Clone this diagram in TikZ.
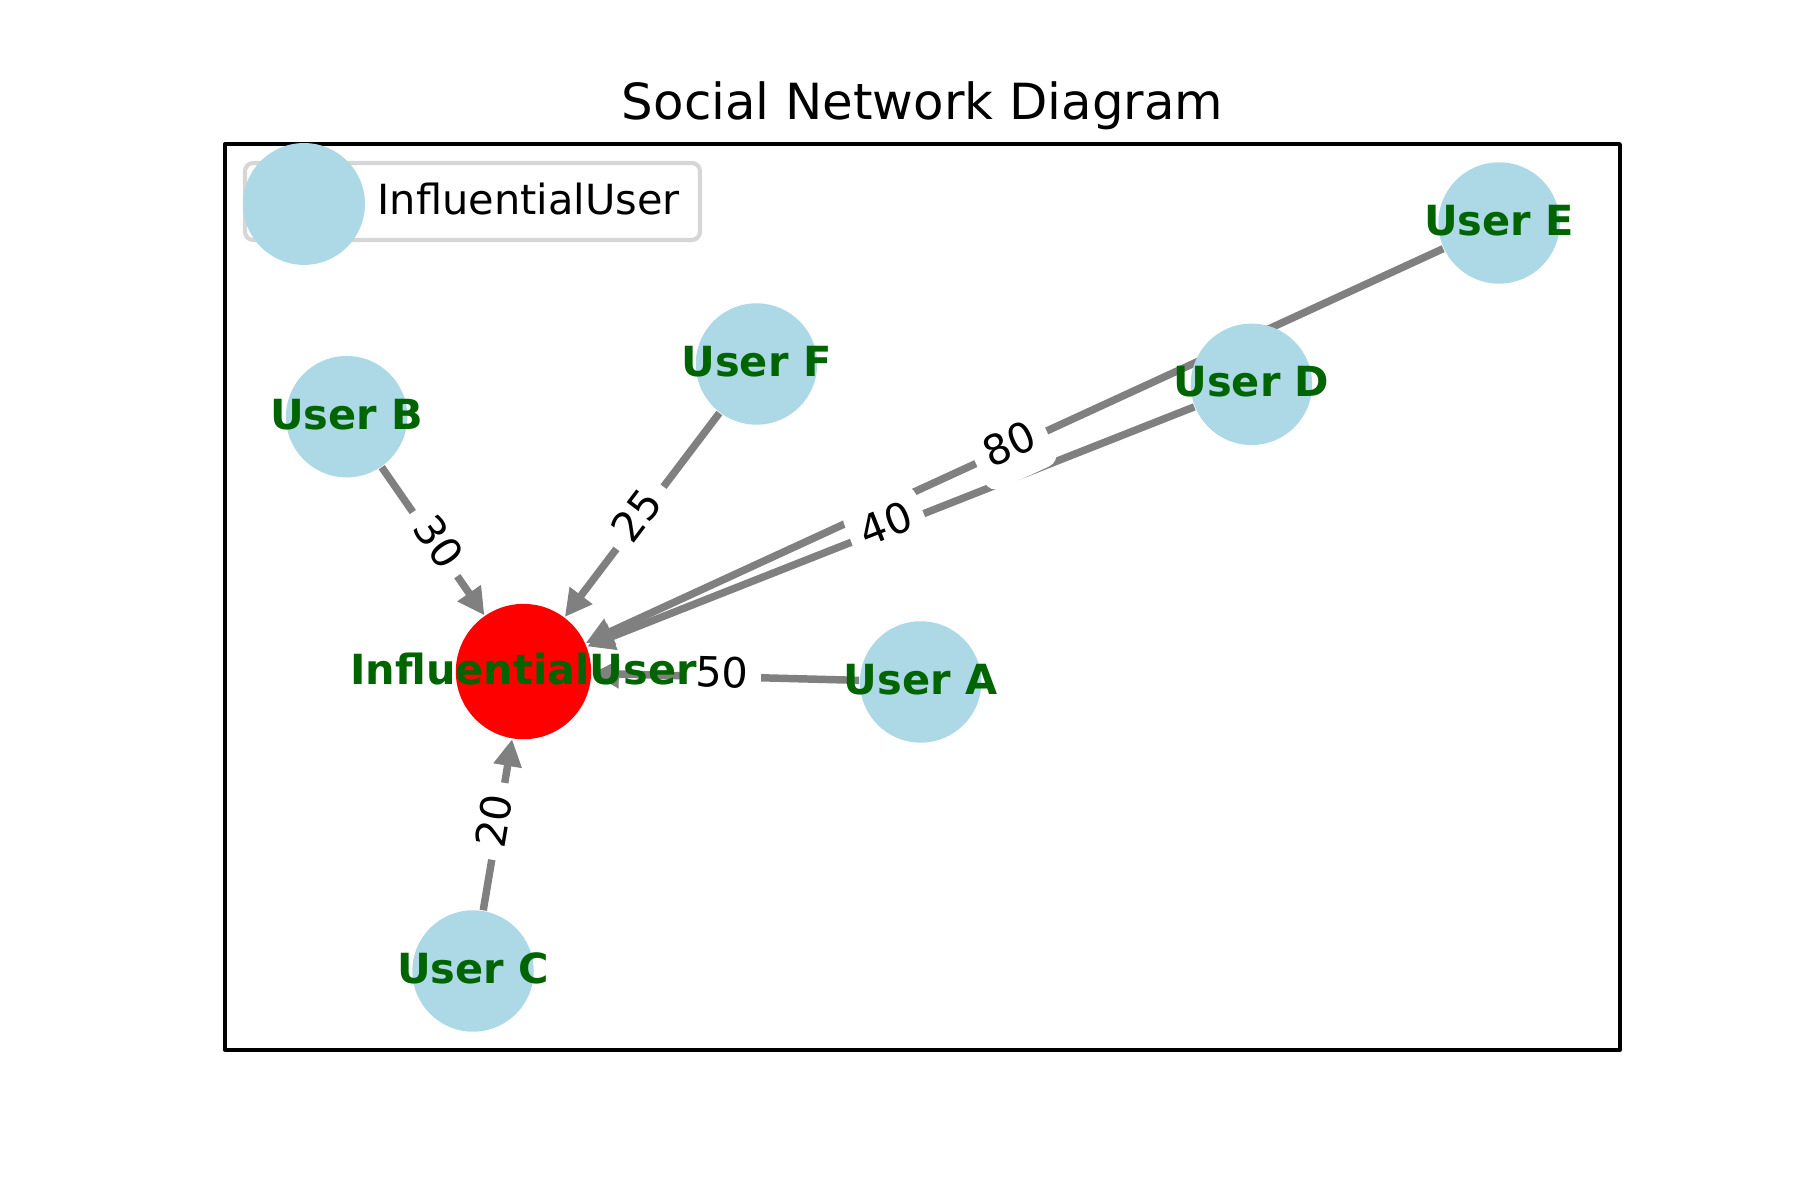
\documentclass[tikz,border=0pt]{standalone}
\usepackage{fontspec}
\setmainfont{DejaVu Sans}
\usepackage{tikz}
\usetikzlibrary{arrows.meta}
\definecolor{nodeblue}{HTML}{ADD8E6}
\definecolor{textgreen}{HTML}{006400}
\definecolor{edgegray}{HTML}{808080}
\definecolor{legendgray}{HTML}{D6D6D6}
\pgfdeclarelayer{edgelayer}
\pgfsetlayers{edgelayer,main}
\tikzset{
  every picture/.style={font=\fontsize{10}{12}\selectfont, line join=round, line cap=round, >={Triangle[length=6.5pt,width=6.5pt]}},
  usernode/.style={circle, fill=nodeblue, inner sep=0pt, minimum size=1.028cm},
  hubnode/.style={circle, fill=red, inner sep=0pt, minimum size=1.146cm},
  link/.style={->, edgegray, line width=1.8pt},
  weightlabel/.style={fill=white, rounded corners=3pt, inner sep=3pt, text=black, text height=7.6pt, text depth=2.4pt},
  usertext/.style={inner sep=0pt, text=textgreen, text height=7.6pt, text depth=1.5pt, font=\fontsize{10}{12}\bfseries},
}

\begin{document}
\begin{tikzpicture}
\useasboundingbox (0,0) rectangle (15.240,10.160);
\node[anchor=base,font=\fontsize{12}{14}\selectfont] (title) at (7.811,9.144) {Social Network Diagram};
\draw[line width=0.8pt](1.905,1.270) rectangle (13.716,8.941);
% nodes
\node[hubnode] (iu) at (4.432,4.474) {};
\foreach \n/\x/\y in {ua/7.795/4.386, ub/2.935/6.632, uc/4.005/1.939, ud/10.596/6.906, ue/12.692/8.272, uf/6.405/7.078}
  \node[usernode] (\n) at (\x,\y) {};
% edges
\begin{pgfonlayer}{edgelayer}
\foreach \n in {ua,ub,uc,ud,ue,uf}
  \draw[link] (\n) -- (iu);
\end{pgfonlayer}
\foreach \n/\w in {ua/50, ub/30, uc/20, ud/40, ue/80, uf/25}
  \path (\n.center) -- (iu.center) node[weightlabel,midway,sloped] (\n-w) {\w};
\foreach \n/\t in {iu/InfluentialUser, ua/User A, ub/User B, uc/User C, ud/User D, ue/User E, uf/User F}
  \node[usertext] (\n-txt) at (\n) {\t};
% legend
\draw[legendgray,fill=white,line width=1pt,rounded corners=2pt](2.074,8.128) rectangle (5.927,8.780);
\node[usernode,minimum size=1.032cm] (legend-dot) at (2.574,8.433) {};
\node[anchor=base west,inner sep=0pt] (legend-txt) at (3.190,8.340) {InfluentialUser};
\end{tikzpicture}
\end{document}
